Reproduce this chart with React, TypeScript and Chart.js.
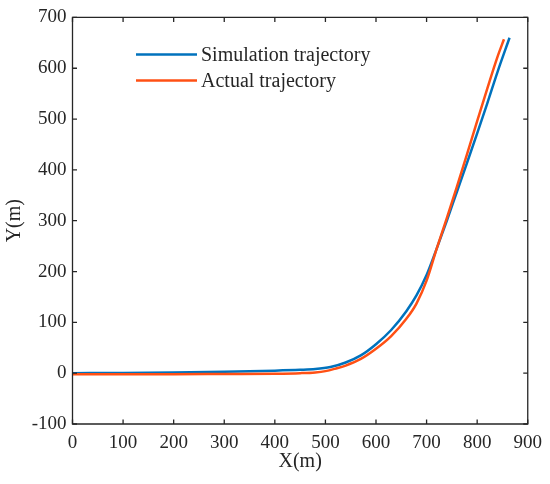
import React, { useEffect, useRef } from "react";
import { Chart, registerables } from "chart.js";

Chart.register(...registerables);

const simX = [0, 100, 200, 300, 400, 450, 480, 510, 540, 570, 600, 630, 660, 680, 700, 720, 740, 760, 780, 800, 820, 840, 864];
const simY = [0, 0.5, 1.5, 3, 5, 6.5, 8, 12, 21, 35, 57, 85, 122, 153, 193, 245, 300, 357, 414, 472, 531, 592, 660];

const actX = [0, 100, 200, 300, 400, 450, 480, 500, 520, 540, 570, 600, 630, 660, 680, 700, 720, 740, 760, 780, 800, 820, 840, 853];
const actY = [-2, -2, -2, -1.5, -1, 0, 1.5, 4, 9, 15, 28, 48, 73, 107, 137, 182, 245, 305, 367, 431, 496, 560, 622, 657];

const seriesLabels = ["Simulation trajectory", "Actual trajectory"];
const seriesColors = ["#0072BD", "#FF5014"];

const xTicks = [0, 100, 200, 300, 400, 500, 600, 700, 800, 900];
const yTicks = [-100, 0, 100, 200, 300, 400, 500, 600, 700];

const FONT = "'Liberation Serif', 'Times New Roman', serif";
const TEXT = "#262626";

const framePlugin = {
  id: "frameTicks",
  afterDatasetsDraw(chart: any) {
    const { ctx, chartArea } = chart;
    const { left, right, top, bottom } = chartArea;
    const xs = chart.scales.x;
    const ys = chart.scales.y;
    const tl = 4.5;
    ctx.save();
    ctx.strokeStyle = TEXT;
    ctx.lineWidth = 1.3;
    ctx.beginPath();
    ctx.rect(left, top, right - left, bottom - top);
    ctx.stroke();
    ctx.beginPath();
    xTicks.forEach((v) => {
      const px = xs.getPixelForValue(v);
      ctx.moveTo(px, bottom);
      ctx.lineTo(px, bottom - tl);
      ctx.moveTo(px, top);
      ctx.lineTo(px, top + tl);
    });
    yTicks.forEach((v) => {
      const py = ys.getPixelForValue(v);
      ctx.moveTo(left, py);
      ctx.lineTo(left + tl, py);
      ctx.moveTo(right, py);
      ctx.lineTo(right - tl, py);
    });
    ctx.stroke();
    ctx.restore();
  },
};

const legendPlugin = {
  id: "insideLegend",
  afterDraw(chart: any) {
    const { ctx, chartArea } = chart;
    const x0 = chartArea.left + 63.5;
    const x1 = chartArea.left + 124.5;
    const y0 = chartArea.top + 37;
    const gap = 26;
    ctx.save();
    chart.data.datasets.forEach((ds: any, i: number) => {
      const y = y0 + i * gap;
      ctx.strokeStyle = ds.borderColor;
      ctx.lineWidth = 2.5;
      ctx.beginPath();
      ctx.moveTo(x0, y);
      ctx.lineTo(x1, y);
      ctx.stroke();
      ctx.fillStyle = TEXT;
      ctx.font = `20px ${FONT}`;
      ctx.textAlign = "left";
      ctx.textBaseline = "middle";
      ctx.fillText(ds.label, x1 + 4, y + 1);
    });
    ctx.restore();
  },
};

export default function App() {
  const ref = useRef<HTMLCanvasElement>(null);

  useEffect(() => {
    document.body.style.margin = "0";
    const canvas = ref.current;
    if (!canvas) return;
    const chart = new Chart(canvas, {
      type: "line",
      data: {
        datasets: [
          {
            label: seriesLabels[0],
            data: simX.map((x, i) => ({ x, y: simY[i] })),
            borderColor: seriesColors[0],
            backgroundColor: seriesColors[0],
            borderWidth: 2.5,
            pointRadius: 0,
            cubicInterpolationMode: "monotone",
            fill: false,
            order: 1,
          },
          {
            label: seriesLabels[1],
            data: actX.map((x, i) => ({ x, y: actY[i] })),
            borderColor: seriesColors[1],
            backgroundColor: seriesColors[1],
            borderWidth: 2.5,
            pointRadius: 0,
            cubicInterpolationMode: "monotone",
            fill: false,
            order: 0,
          },
        ],
      },
      options: {
        animation: false,
        responsive: false,
        maintainAspectRatio: false,
        layout: { padding: { left: 0, right: 16, top: 15, bottom: 0 } },
        plugins: {
          legend: { display: false },
          tooltip: { enabled: false },
        },
        scales: {
          x: {
            type: "linear",
            min: 0,
            max: 900,
            afterBuildTicks: (scale: any) => {
              scale.ticks = xTicks.map((v) => ({ value: v }));
            },
            afterFit: (scale: any) => {
              scale.height = 60;
            },
            grid: { display: false, drawTicks: false },
            border: { display: false },
            ticks: {
              font: { family: FONT, size: 19 },
              color: TEXT,
              padding: 8,
              maxRotation: 0,
              autoSkip: false,
              callback: (v: any) => String(v),
            },
            title: {
              display: true,
              text: "X(m)",
              font: { family: FONT, size: 20 },
              color: TEXT,
              padding: { top: 0, bottom: 10 },
            },
          },
          y: {
            type: "linear",
            min: -100,
            max: 700,
            afterBuildTicks: (scale: any) => {
              scale.ticks = yTicks.map((v) => ({ value: v }));
            },
            afterFit: (scale: any) => {
              scale.width = 72.5;
            },
            grid: { display: false, drawTicks: false },
            border: { display: false },
            ticks: {
              font: { family: FONT, size: 19 },
              color: TEXT,
              padding: 6,
              autoSkip: false,
              callback: (v: any) => String(v),
            },
            title: {
              display: true,
              text: "Y(m)",
              font: { family: FONT, size: 20 },
              color: TEXT,
              padding: { top: 3, bottom: 0 },
            },
          },
        },
      },
      plugins: [framePlugin, legendPlugin],
    });
    return () => chart.destroy();
  }, []);

  return (
    <div style={{ width: 550, height: 484, background: "#fff" }}>
      <canvas ref={ref} width={550} height={484} style={{ width: 550, height: 484, display: "block" }} />
    </div>
  );
}
